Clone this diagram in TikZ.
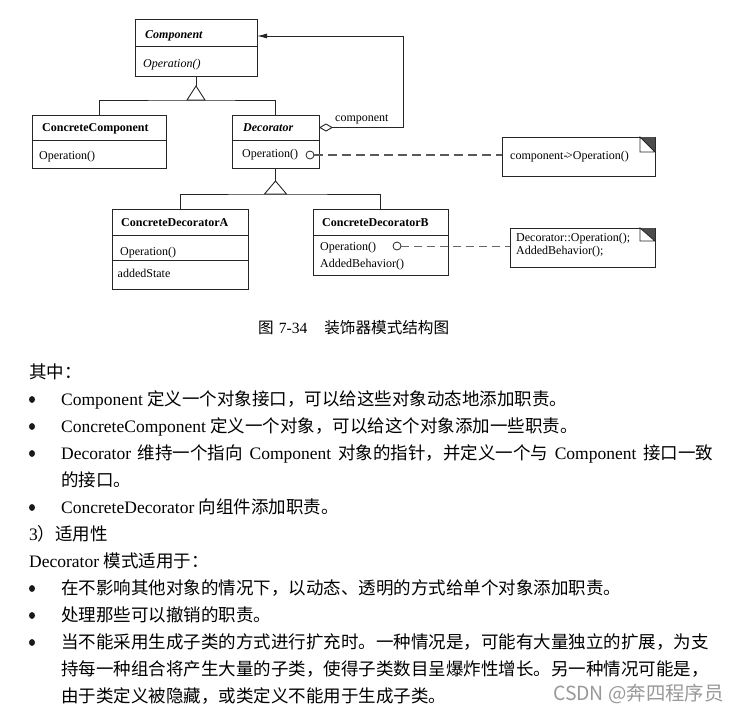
\documentclass[tikz,border=0pt]{standalone}
\usepackage{fontspec}
\setmainfont{Liberation Serif}
\newfontfamily\cjk{Noto Sans CJK SC}
\usetikzlibrary{arrows.meta,calc,positioning,shapes.geometric}
\def\zh#1{{\cjk #1}}

\begin{document}
\begin{tikzpicture}[x=1pt, y=-1pt,
	umlbox/.style={draw=black!85, line width=0.9pt, inner sep=0pt, outer sep=0pt, anchor=north west},
	umltext/.style={anchor=base west, inner sep=0pt, font=\fontsize{12}{13}\selectfont},
	umlline/.style={draw=black!85, line width=0.9pt},
	opdot/.style={circle, draw=black!85, line width=0.8pt, minimum size=8pt, inner sep=0pt, outer sep=0pt},
	bodytext/.style={anchor=base west, inner sep=0pt, font=\fontsize{17.5}{21}\selectfont},
	bulletdot/.style={ellipse, fill=black!90, minimum width=6pt, minimum height=6.8pt, inner sep=0pt}]

	\path[use as bounding box, fill=white] (0,0) rectangle (741,713);

	%%%%% CLASSES %%%%%

	\node[umlbox, minimum width=122pt, minimum height=27pt] (comp) at (135,19) {};
	\node[umlbox, minimum width=122pt, minimum height=30pt] (comp-ops) at (comp.south west) {};
	\node[umltext] (comp-name) at (145,38) {\bfseries\itshape Component};
	\node[umltext] (comp-op) at (143,67) {\itshape Operation()};

	\node[umlbox, minimum width=134pt, minimum height=25pt] (cc) at (32,115) {};
	\node[umlbox, minimum width=134pt, minimum height=28pt] (cc-ops) at (cc.south west) {};
	\node[umltext] (cc-name) at (42,131) {\bfseries ConcreteComponent};
	\node[umltext] (cc-op) at (39,159) {Operation()};

	\node[umlbox, minimum width=87pt, minimum height=25pt] (dec) at (232,115) {};
	\node[umlbox, minimum width=87pt, minimum height=28pt] (dec-ops) at (dec.south west) {};
	\node[umltext] (dec-name) at (243,131) {\bfseries\itshape Decorator};
	\node[umltext] (dec-op) at (242,157) {Operation()};
	\node[opdot] (dec-dot) at (310,155) {};

	\node[umlbox, minimum width=136pt, minimum height=26pt] (cda) at (112,209) {};
	\node[umlbox, minimum width=136pt, minimum height=25pt] (cda-ops) at (cda.south west) {};
	\node[umlbox, minimum width=136pt, minimum height=29pt] (cda-attr) at (cda-ops.south west) {};
	\node[umltext] (cda-name) at (121,226) {\bfseries ConcreteDecoratorA};
	\node[umltext] (cda-op) at (120,255) {Operation()};
	\node[umltext] (cda-state) at (117.5,277) {addedState};

	\node[umlbox, minimum width=135pt, minimum height=26pt] (cdb) at (313,209) {};
	\node[umlbox, minimum width=135pt, minimum height=40pt] (cdb-ops) at (cdb.south west) {};
	\node[umltext] (cdb-name) at (322,226) {\bfseries ConcreteDecoratorB};
	\node[umltext] (cdb-op) at (320,250) {Operation()};
	\node[umltext] (cdb-added) at (320,267) {AddedBehavior()};
	\node[opdot] (cdb-dot) at (397,246) {};

	%%%%% NOTES %%%%%

	\node[umlbox, minimum width=153pt, minimum height=39pt] (note1) at (502,137) {};
	\fill[black!70] ($(note1.north east)+(-15,0)$) -- (note1.north east) -- ++(0,15) -- cycle;
	\draw[umlline, fill=white] ($(note1.north east)+(-15,0)$) -- ++(0,15) -- ++(15,0) -- cycle;
	\node[umltext] (note1-text) at (510,159) {component-\kern-0.12em>Operation()};

	\node[umlbox, minimum width=145pt, minimum height=39pt] (note2) at (510,228) {};
	\fill[black!70] ($(note2.north east)+(-15,0)$) -- (note2.north east) -- ++(0,13) -- cycle;
	\draw[umlline, fill=white] ($(note2.north east)+(-15,0)$) -- ++(0,13) -- ++(15,0) -- cycle;
	\node[umltext] (note2-call) at (516,241) {Decorator::Operation();};
	\node[umltext] (note2-added) at (516,254) {AddedBehavior();};

	%%%%% LINKS %%%%%

	\coordinate[below=10pt of comp-ops.south] (tri1);
	\coordinate[below=14pt of tri1] (bar1);
	\draw[umlline] (comp-ops.south) -- (tri1);
	\draw[umlline] (tri1) -- ++(-9,14) -- ++(18,0) -- cycle;
	\draw[umlline] (cc.north) |- (bar1) -| (dec.north);

	\coordinate[below=13pt of dec-ops.south] (tri2);
	\coordinate[below=13pt of tri2] (bar2);
	\draw[umlline] (dec-ops.south) -- (tri2);
	\draw[umlline] (tri2) -- ++(-11,13) -- ++(22,0) -- cycle;
	\draw[umlline] (cda.north) |- (bar2) -| (cdb.north);

	\draw[umlline, {Diamond[open, length=14pt, width=8pt]}-{Latex[length=10pt, width=5pt]}] (dec.east) -- ++(84,0) |- ([yshift=-3.5pt]comp.east);
	\node[umltext] (aggr-label) at (335,121) {component};

	\draw[draw=black!65, line width=1.6pt, dash pattern=on 9pt off 5pt] (dec-dot.east) -- (dec-dot.east -| note1.west);
	\draw[draw=black!60, line width=0.9pt, dash pattern=on 8pt off 5pt] (cdb-dot.east) -- (cdb-dot.east -| note2.west);

	%%%%% TEXT %%%%%

	\node[anchor=base west, inner sep=0pt, font=\fontsize{15.6}{18}\selectfont] (caption) at (258,333) {\zh{图}\hspace{5pt}7-34\hspace{17pt}\zh{装饰器模式结构图}};

	\node[bodytext] (l0) at (29,378.7) {\zh{其中：}};
	\node[bulletdot] (b1) at (32,399.5) {};
	\node[bodytext] (l1) at (61,405.7) {Component \zh{定义一个对象接口，可以给这些对象动态地添加职责。}};
	\node[bulletdot] (b2) at (32,426.5) {};
	\node[bodytext] (l2) at (61,432.7) {ConcreteComponent \zh{定义一个对象，可以给这个对象添加一些职责。}};
	\node[bulletdot] (b3) at (32,453.5) {};
	\node[bodytext] (l3) at (61,459.7) {\makebox[652pt][s]{Decorator \zh{维持一个指向} Component \zh{对象的指针，并定义一个与} Component \zh{接口一致}}};
	\node[bodytext] (l4) at (61,486.7) {\zh{的接口。}};
	\node[bulletdot] (b5) at (32,507.5) {};
	\node[bodytext] (l5) at (61,513.7) {ConcreteDecorator \zh{向组件添加职责。}};
	\node[bodytext] (l6) at (29,540.7) {3\zh{）适用性}};
	\node[bodytext] (l7) at (29,567.7) {Decorator \zh{模式适用于：}};
	\node[bulletdot] (b8) at (32,588.5) {};
	\node[bodytext] (l8) at (61,594.7) {\zh{在不影响其他对象的情况下，以动态、透明的方式给单个对象添加职责。}};
	\node[bulletdot] (b9) at (32,615.5) {};
	\node[bodytext] (l9) at (61,621.7) {\zh{处理那些可以撤销的职责。}};
	\node[bulletdot] (b10) at (32,642.5) {};
	\node[bodytext] (l10) at (61,648.7) {\zh{当不能采用生成子类的方式进行扩充时。一种情况是，可能有大量独立的扩展，为支}};
	\node[bodytext] (l11) at (61,675.7) {\zh{持每一种组合将产生大量的子类，使得子类数目呈爆炸性增长。另一种情况可能是，}};
	\node[bodytext] (l12) at (61,702.7) {\zh{由于类定义被隐藏，或类定义不能用于生成子类。}};

	\node[anchor=west, inner sep=0pt, text=black!40, font=\cjk\fontsize{19.4}{21}\selectfont] (mark) at (553,694) {CSDN @奔四程序员};

\end{tikzpicture}
\end{document}
